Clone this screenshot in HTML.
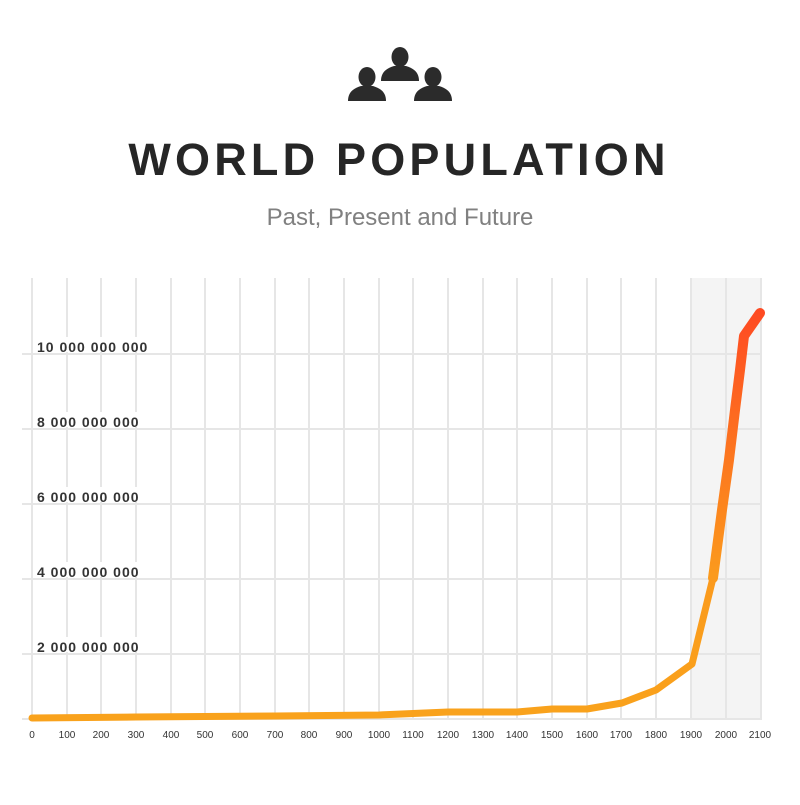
<!DOCTYPE html>
<html><head><meta charset="utf-8"><style>
body{margin:0;background:#fff;width:800px;height:800px;overflow:hidden;font-family:"Liberation Sans",sans-serif}
</style></head><body>
<svg width="800" height="800" xmlns="http://www.w3.org/2000/svg">
<defs>
<linearGradient id="g" x1="0" y1="718" x2="0" y2="310" gradientUnits="userSpaceOnUse">
<stop offset="0" stop-color="#f9a21c"/><stop offset="0.35" stop-color="#fb9a1d"/><stop offset="1" stop-color="#fe4a22"/>
</linearGradient>
<g id="p"><ellipse cx="0" cy="0" rx="8.5" ry="10"/><path d="M-19,24 C-19,14 -12,11 -6,9 L6,9 C12,11 19,14 19,24 Z"/></g>
</defs>
<g fill="#2b2b2b">
<use href="#p" x="400" y="57"/>
<use href="#p" x="367" y="77"/>
<use href="#p" x="433" y="77"/>
</g>
<text x="399" y="175" text-anchor="middle" font-size="45" font-weight="bold" letter-spacing="4.2" fill="#262626">WORLD POPULATION</text>
<text x="400" y="225" text-anchor="middle" font-size="24" fill="#808080">Past, Present and Future</text>
<rect x="692" y="278" width="70" height="440" fill="#f4f4f4"/>
<g stroke="#e6e6e6" stroke-width="2">
<line x1="32" y1="278" x2="32" y2="718"/><line x1="67" y1="278" x2="67" y2="718"/><line x1="101" y1="278" x2="101" y2="718"/><line x1="136" y1="278" x2="136" y2="718"/><line x1="171" y1="278" x2="171" y2="718"/><line x1="205" y1="278" x2="205" y2="718"/><line x1="240" y1="278" x2="240" y2="718"/><line x1="275" y1="278" x2="275" y2="718"/><line x1="309" y1="278" x2="309" y2="718"/><line x1="344" y1="278" x2="344" y2="718"/><line x1="379" y1="278" x2="379" y2="718"/><line x1="413" y1="278" x2="413" y2="718"/><line x1="448" y1="278" x2="448" y2="718"/><line x1="483" y1="278" x2="483" y2="718"/><line x1="517" y1="278" x2="517" y2="718"/><line x1="552" y1="278" x2="552" y2="718"/><line x1="587" y1="278" x2="587" y2="718"/><line x1="621" y1="278" x2="621" y2="718"/><line x1="656" y1="278" x2="656" y2="718"/><line x1="691" y1="278" x2="691" y2="718"/><line x1="726" y1="278" x2="726" y2="718"/><line x1="761" y1="278" x2="761" y2="718"/>
<line x1="22" y1="354" x2="762" y2="354"/><line x1="22" y1="429" x2="762" y2="429"/><line x1="22" y1="504" x2="762" y2="504"/><line x1="22" y1="579" x2="762" y2="579"/><line x1="22" y1="654" x2="762" y2="654"/><line x1="22" y1="719" x2="762" y2="719"/>
</g>
<g font-size="14" fill="#333" font-weight="bold" letter-spacing="1">
<rect x="34" y="337" width="128" height="15" fill="#fff"/><text x="37" y="352">10 000 000 000</text>
<rect x="34" y="412" width="122" height="15" fill="#fff"/><text x="37" y="427">8 000 000 000</text>
<rect x="34" y="487" width="122" height="15" fill="#fff"/><text x="37" y="502">6 000 000 000</text>
<rect x="34" y="562" width="122" height="15" fill="#fff"/><text x="37" y="577">4 000 000 000</text>
<rect x="34" y="637" width="122" height="15" fill="#fff"/><text x="37" y="652">2 000 000 000</text>
</g>
<g font-size="10" fill="#333" text-anchor="middle">
<text x="32" y="738">0</text><text x="67" y="738">100</text><text x="101" y="738">200</text><text x="136" y="738">300</text><text x="171" y="738">400</text><text x="205" y="738">500</text><text x="240" y="738">600</text><text x="275" y="738">700</text><text x="309" y="738">800</text><text x="344" y="738">900</text><text x="379" y="738">1000</text><text x="413" y="738">1100</text><text x="448" y="738">1200</text><text x="483" y="738">1300</text><text x="517" y="738">1400</text><text x="552" y="738">1500</text><text x="587" y="738">1600</text><text x="621" y="738">1700</text><text x="656" y="738">1800</text><text x="691" y="738">1900</text><text x="726" y="738">2000</text><text x="760" y="738">2100</text>
</g>
<polyline fill="none" stroke="url(#g)" stroke-width="7" stroke-linejoin="round" stroke-linecap="round" points="32,718 136,717 275,716 379,715 448,712 517,712 552,709 587,709 622,703 656,690 692,664 713,578"/>
<polyline fill="none" stroke="url(#g)" stroke-width="10" stroke-linejoin="round" stroke-linecap="round" points="713,578 722,510 729,460 735,410 740,370 744,336 760,313"/>
</svg>
</body></html>
